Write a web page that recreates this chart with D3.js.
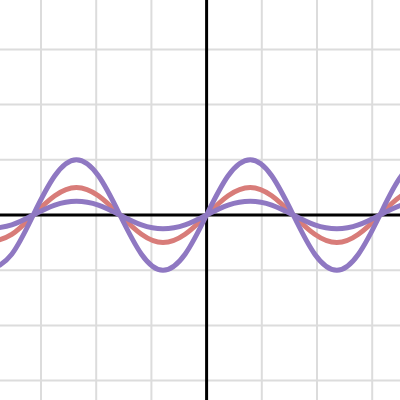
<!DOCTYPE html>
<html>
<head>
<meta charset="utf-8">
<script src="https://cdn.jsdelivr.net/npm/d3@7"></script>
<style>
  html, body { margin: 0; padding: 0; background: #fff; overflow: hidden; }
</style>
</head>
<body>
<svg id="chart"></svg>
<script>
const xs = [-3.93, -3.53, -3.14, -2.75, -2.36, -1.96, -1.57, -1.18, -0.79, -0.39, 0,
            0.39, 0.79, 1.18, 1.57, 1.96, 2.36, 2.75, 3.14, 3.53, 3.93];
const bigWave = [-1, -0.71, 0, 0.71, 1, 0.71, 0, -0.71, -1, -0.71, 0,
                 0.71, 1, 0.71, 0, -0.71, -1, -0.71, 0, 0.71, 1];
const redWave = [-0.5, -0.35, 0, 0.35, 0.5, 0.35, 0, -0.35, -0.5, -0.35, 0,
                 0.35, 0.5, 0.35, 0, -0.35, -0.5, -0.35, 0, 0.35, 0.5];
const smallWave = [-0.25, -0.18, 0, 0.18, 0.25, 0.18, 0, -0.18, -0.25, -0.18, 0,
                   0.18, 0.25, 0.18, 0, -0.18, -0.25, -0.18, 0, 0.18, 0.25];
const gridX = [-3, -2, -1, 1, 2, 3];
const gridY = [-3, -2, -1, 1, 2, 3];

const width = 400, height = 400;
const unit = 55.2;
const originX = 206.6, originY = 215;

const svg = d3.select('#chart')
    .attr('width', width)
    .attr('height', height);

const xscale = d3.scaleLinear()
    .domain([-originX / unit, (width - originX) / unit])
    .range([0, width]);

const yscale = d3.scaleLinear()
    .domain([-(height - originY) / unit, originY / unit])
    .range([height, 0]);

// grid
svg.append('g')
    .selectAll('line')
    .data(gridX)
    .join('line')
    .attr('x1', d => xscale(d))
    .attr('x2', d => xscale(d))
    .attr('y1', 0)
    .attr('y2', height)
    .attr('stroke', '#dcdcdc')
    .attr('stroke-width', 2);

svg.append('g')
    .selectAll('line')
    .data(gridY)
    .join('line')
    .attr('y1', d => yscale(d))
    .attr('y2', d => yscale(d))
    .attr('x1', 0)
    .attr('x2', width)
    .attr('stroke', '#dcdcdc')
    .attr('stroke-width', 2);

// axes
svg.append('line')
    .attr('x1', 0).attr('x2', width)
    .attr('y1', yscale(0)).attr('y2', yscale(0))
    .attr('stroke', '#000')
    .attr('stroke-width', 3);

svg.append('line')
    .attr('x1', xscale(0)).attr('x2', xscale(0))
    .attr('y1', 0).attr('y2', height)
    .attr('stroke', '#000')
    .attr('stroke-width', 3);

// curves
const line = d3.line()
    .x(d => xscale(d[0]))
    .y(d => yscale(d[1]))
    .curve(d3.curveNatural);

const series = [
    { values: redWave, color: '#d87c79' },
    { values: bigWave, color: '#8f78c2' },
    { values: smallWave, color: '#8f78c2' }
];

svg.append('g')
    .selectAll('path')
    .data(series)
    .join('path')
    .attr('d', s => line(xs.map((x, i) => [x, s.values[i]])))
    .attr('fill', 'none')
    .attr('stroke', s => s.color)
    .attr('stroke-width', 5)
    .attr('stroke-linecap', 'round');
</script>
</body>
</html>
